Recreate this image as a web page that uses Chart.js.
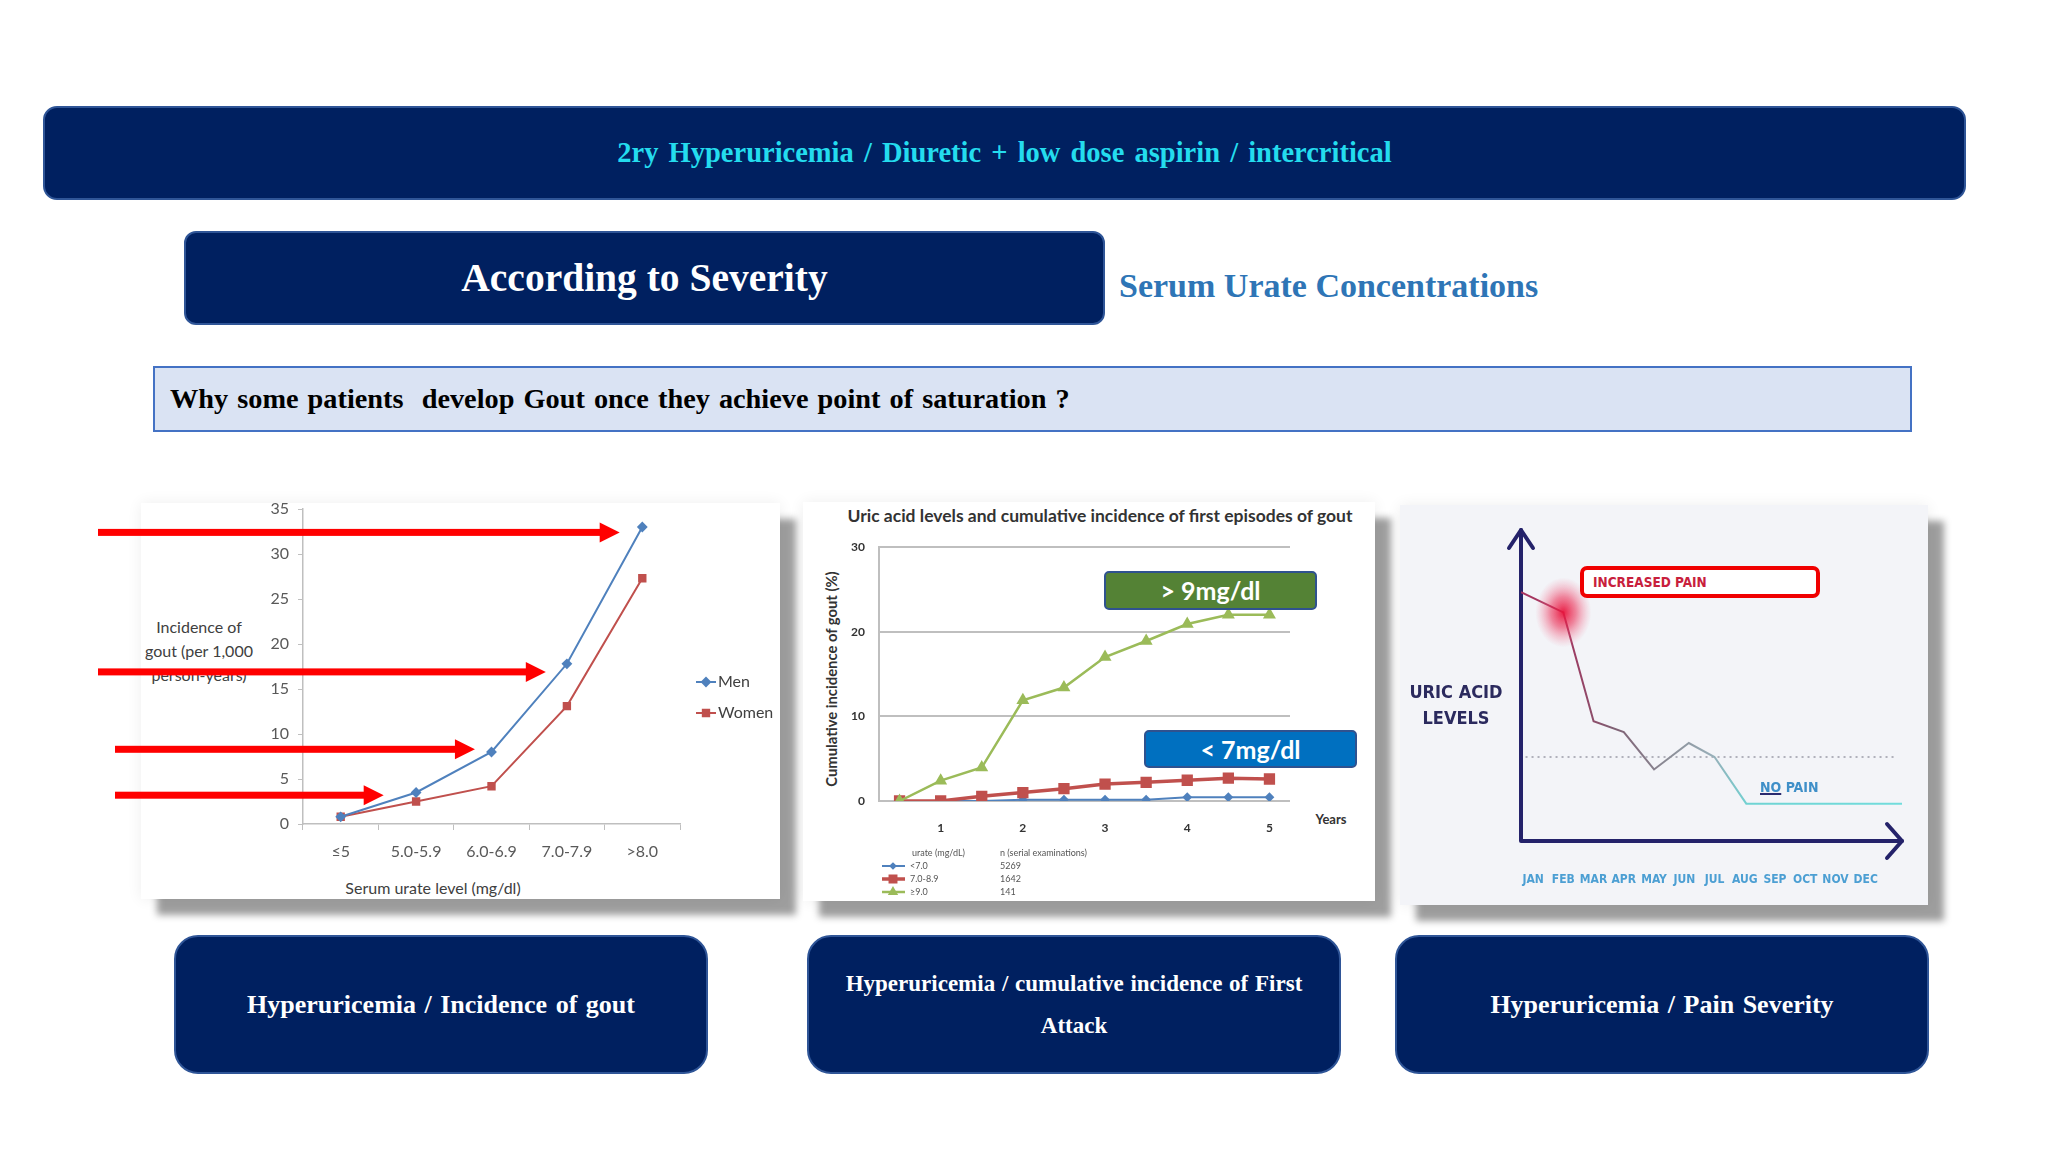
<!DOCTYPE html>
<html>
<head>
<meta charset="utf-8">
<script src="https://cdn.jsdelivr.net/npm/chart.js@4.4.1/dist/chart.umd.min.js"></script>
<style>
  body { margin: 0; width: 2048px; height: 1152px; background: #fff; position: relative; overflow: hidden; font-family: 'Liberation Serif', 'Times New Roman', serif; }
  .abs { position: absolute; }
  .navy { background: #002060; border: 2px solid #2F5597; box-sizing: border-box; color: #fff; font-weight: bold; display: flex; align-items: center; justify-content: center; text-align: center; }
  .panel { position: absolute; box-shadow: 16px 16px 7px rgba(0,0,0,0.38), 0 0 14px rgba(0,0,0,0.07); z-index: 1; }
  .txt { position: absolute; z-index: 2; white-space: nowrap; }
  canvas { position: absolute; z-index: 3; }
  .narrow { font-family: 'Liberation Sans Narrow', 'DejaVu Sans Condensed', sans-serif; font-weight: bold; }
</style>
</head>
<body>

<!-- slide header -->
<div class="abs navy" style="left:43px;top:106px;width:1923px;height:94px;border-radius:14px;color:#24DCEE;font-size:28.5px;word-spacing:3px;">2ry Hyperuricemia / Diuretic + low dose aspirin / intercritical</div>
<div class="abs navy" style="left:184px;top:231px;width:921px;height:94px;border-radius:12px;font-size:39.5px;">According to Severity</div>
<div class="abs" style="left:1119px;top:266px;height:40px;line-height:40px;color:#2E75B6;font-size:34px;font-weight:bold;">Serum Urate Concentrations</div>
<div class="abs" style="left:153px;top:366px;width:1759px;height:66px;box-sizing:border-box;background:#DAE3F3;border:2px solid #4472C4;padding-left:15px;line-height:62px;font-size:28.3px;word-spacing:2px;font-weight:bold;color:#000;white-space:pre;">Why some patients  develop Gout once they achieve point of saturation ?</div>

<!-- panels -->
<div class="panel" style="left:141px;top:503px;width:639px;height:396px;background:#fff;"></div>
<div class="panel" style="left:803px;top:502px;width:572px;height:399px;background:#fff;"></div>
<div class="panel" style="left:1400px;top:505px;width:528px;height:400px;background:#F3F4F8;"></div>

<!-- chart 1 texts -->
<div class="txt" style="left:120px;top:615px;width:158px;line-height:24px;text-align:center;font-family:Lato,sans-serif;font-size:16px;color:#404040;">Incidence of<br>gout (per 1,000<br>person-years)</div>
<div class="txt" style="left:313px;top:876px;width:240px;line-height:24px;text-align:center;font-family:Lato,sans-serif;font-size:16px;color:#404040;">Serum urate level (mg/dl)</div>

<!-- chart 2 texts -->
<div class="txt" style="left:800px;top:504px;width:600px;line-height:24px;text-align:center;font-family:Lato,sans-serif;font-size:17.5px;font-weight:bold;color:#333;">Uric acid levels and cumulative incidence of first episodes of gout</div>
<div class="txt" style="left:701px;top:670px;width:260px;line-height:18px;text-align:center;font-family:Lato,sans-serif;font-size:14.8px;font-weight:bold;color:#333;transform:rotate(-90deg);">Cumulative incidence of gout (%)</div>
<div class="txt" style="left:1306px;top:810px;width:50px;line-height:18px;text-align:center;font-family:Lato,sans-serif;font-size:13px;font-weight:bold;color:#333;">Years</div>

<!-- chart 3 texts -->
<div class="txt narrow" style="left:1406px;top:679px;width:100px;line-height:26px;text-align:center;font-size:18px;color:#2B2A5E;z-index:4;">URIC ACID<br>LEVELS</div>

<canvas id="incidence" width="710" height="420" style="left:90px;top:490px;"></canvas>
<canvas id="cumulative" width="572" height="399" style="left:803px;top:502px;"></canvas>
<canvas id="pain" width="528" height="400" style="left:1400px;top:505px;"></canvas>

<!-- chart 2 callouts -->
<div class="abs" style="z-index:4;left:1104px;top:571px;width:213px;height:39px;box-sizing:border-box;background:#548235;border:2px solid #2F528F;border-radius:5px;color:#fff;font-family:Lato,sans-serif;font-weight:bold;font-size:25px;line-height:35px;text-align:center;">&gt; 9mg/dl</div>
<div class="abs" style="z-index:4;left:1144px;top:730px;width:213px;height:38px;box-sizing:border-box;background:#0070C0;border:2px solid #2F528F;border-radius:5px;color:#fff;font-family:Lato,sans-serif;font-weight:bold;font-size:25px;line-height:34px;text-align:center;">&lt; 7mg/dl</div>

<!-- chart 3 callouts -->
<div class="abs narrow" style="z-index:4;left:1580px;top:566px;width:240px;height:32px;box-sizing:border-box;background:#fff;border:4px solid #F00000;border-radius:7px;padding-left:9px;line-height:24px;font-size:13.5px;color:#C8203C;">INCREASED PAIN</div>
<div class="abs narrow" style="z-index:4;left:1760px;top:777px;line-height:20px;font-size:14px;color:#3F8FC8;"><span style="text-decoration:underline;text-decoration-color:#2B2B6F;text-decoration-thickness:2px;">NO</span> PAIN</div>

<!-- captions -->
<div class="abs navy" style="left:174px;top:935px;width:534px;height:139px;border-radius:24px;font-size:26px;word-spacing:2px;">Hyperuricemia / Incidence of gout</div>
<div class="abs navy" style="left:807px;top:935px;width:534px;height:139px;border-radius:24px;font-size:23px;line-height:42px;word-spacing:1px;">Hyperuricemia / cumulative incidence of First<br>Attack</div>
<div class="abs navy" style="left:1395px;top:935px;width:534px;height:139px;border-radius:24px;font-size:26px;word-spacing:2px;">Hyperuricemia / Pain Severity</div>

<script>
// chart 1: incidence of gout by serum urate
const urateLevels = ['≤5', '5.0-5.9', '6.0-6.9', '7.0-7.9', '>8.0'];
const menIncidence = [0.8, 3.5, 8.0, 17.8, 33.0];
const womenIncidence = [0.8, 2.5, 4.2, 13.1, 27.3];
const incidenceTicks = [0, 5, 10, 15, 20, 25, 30, 35];

// red arrows pointing at the men curve (level, tip in category units, start px)
const arrowLevels = [32.4, 16.9, 8.3, 3.2];
const arrowTips = [3.70, 2.72, 1.78, 0.57];
const arrowStarts = [8, 8, 25, 25];

// chart 2: cumulative incidence of first gout episode
const years = [0.5, 1, 1.5, 2, 2.5, 3, 3.5, 4, 4.5, 5];
const yearTicks = [1, 2, 3, 4, 5];
const urateHigh = [0, 2.4, 3.95, 11.9, 13.4, 17.0, 18.9, 20.9, 22.0, 22.0];
const urateMid = [0, 0, 0.55, 1.0, 1.45, 2.0, 2.2, 2.45, 2.7, 2.6];
const urateLow = [0, 0, 0, 0.15, 0.15, 0.15, 0.15, 0.45, 0.45, 0.45];
const urateGroups = ['<7.0', '7.0-8.9', '≥9.0'];
const serialExams = ['5269', '1642', '141'];

// chart 3: uric acid level vs pain over the year
const months = ['JAN', 'FEB', 'MAR', 'APR', 'MAY', 'JUN', 'JUL', 'AUG', 'SEP', 'OCT', 'NOV', 'DEC'];
const painX = [-0.4, 1, 2, 3, 4, 5.15, 6, 7.05, 12.2];
const painLevel = [8.0, 7.35, 3.85, 3.5, 2.3, 3.15, 2.7, 1.2, 1.2];
const thresholdX = [-0.25, 12.0];
const thresholdLevel = [2.7, 2.7];

Chart.defaults.font.family = 'Lato, sans-serif';
Chart.defaults.animation = false;
Chart.defaults.plugins.legend.display = false;
Chart.defaults.plugins.tooltip.enabled = false;

const pts = (xs, ys) => xs.map((x, i) => ({ x: x, y: ys[i] }));

// --- chart 1 ---
const arrowPlugin = {
    id: 'arrows',
    afterDatasetsDraw(chart) {
        const { ctx, scales: { x, y } } = chart;
        ctx.save();
        ctx.fillStyle = '#FF0000';
        arrowLevels.forEach((lvl, i) => {
            const yy = y.getPixelForValue(lvl);
            const tip = x.getPixelForValue(arrowTips[i]);
            ctx.fillRect(arrowStarts[i], yy - 3.5, tip - 19 - arrowStarts[i], 7);
            ctx.beginPath();
            ctx.moveTo(tip, yy);
            ctx.lineTo(tip - 20, yy - 10);
            ctx.lineTo(tip - 20, yy + 10);
            ctx.closePath();
            ctx.fill();
        });
        ctx.restore();
    }
};

const sideLegend = {
    id: 'sideLegend',
    afterDraw(chart) {
        const ctx = chart.ctx;
        const x0 = chart.chartArea.right + 16;
        ctx.save();
        chart.data.datasets.forEach((ds, i) => {
            const yy = 192 + i * 31;
            ctx.strokeStyle = ds.borderColor;
            ctx.lineWidth = 2;
            ctx.beginPath();
            ctx.moveTo(x0, yy);
            ctx.lineTo(x0 + 20, yy);
            ctx.stroke();
            ctx.fillStyle = ds.backgroundColor;
            Chart.helpers.drawPoint(ctx, { pointStyle: ds.pointStyle, radius: ds.pointRadius, borderWidth: 1 }, x0 + 10, yy);
            ctx.fillStyle = '#404040';
            ctx.font = '16px Lato';
            ctx.textBaseline = 'middle';
            ctx.fillText(ds.label, x0 + 22, yy);
        });
        ctx.restore();
    }
};

new Chart(document.getElementById('incidence'), {
    type: 'line',
    data: {
        labels: urateLevels,
        datasets: [
            { label: 'Men', data: menIncidence, borderColor: '#4F81BD', backgroundColor: '#4F81BD', borderWidth: 2, pointStyle: 'rectRot', pointRadius: 4, tension: 0 },
            { label: 'Women', data: womenIncidence, borderColor: '#C0504D', backgroundColor: '#C0504D', borderWidth: 2, pointStyle: 'rect', pointRadius: 4.5, tension: 0 }
        ]
    },
    options: {
        responsive: false,
        layout: { padding: { left: 163, right: 120, top: 19, bottom: 0 } },
        scales: {
            x: {
                offset: true,
                grid: { offset: true, drawOnChartArea: false, color: '#BFBFBF', tickLength: 6 },
                border: { color: '#BFBFBF', width: 1.5 },
                ticks: { color: '#595959', font: { size: 16 }, padding: 12 },
                afterFit: s => { s.height = 86; }
            },
            y: {
                min: 0, max: 35,
                afterBuildTicks: s => { s.ticks = incidenceTicks.map(v => ({ value: v })); },
                grid: { drawOnChartArea: false, color: '#BFBFBF', tickLength: 5 },
                border: { color: '#BFBFBF', width: 1.5 },
                ticks: { color: '#595959', font: { size: 16 }, padding: 9 },
                afterFit: s => { s.width = 50; }
            }
        }
    },
    plugins: [arrowPlugin, sideLegend]
});

// --- chart 2 ---
const bottomLegend = {
    id: 'bottomLegend',
    afterDraw(chart) {
        const ctx = chart.ctx;
        const order = [2, 1, 0];
        ctx.save();
        ctx.font = '9px Lato';
        ctx.fillStyle = '#555';
        ctx.textBaseline = 'middle';
        ctx.fillText('urate (mg/dL)', 109, 351);
        ctx.fillText('n (serial examinations)', 197, 351);
        order.forEach((di, row) => {
            const ds = chart.data.datasets[di];
            const yy = 364 + row * 13;
            ctx.strokeStyle = ds.borderColor;
            ctx.lineWidth = ds.borderWidth;
            ctx.beginPath();
            ctx.moveTo(79, yy);
            ctx.lineTo(102, yy);
            ctx.stroke();
            ctx.fillStyle = ds.backgroundColor;
            Chart.helpers.drawPoint(ctx, { pointStyle: ds.pointStyle, radius: ds.pointRadius * 0.7, borderWidth: 1 }, 90, yy);
            ctx.fillStyle = '#555';
            ctx.fillText(urateGroups[row], 107, yy);
            ctx.fillText(serialExams[row], 197, yy);
        });
        ctx.restore();
    }
};

new Chart(document.getElementById('cumulative'), {
    type: 'line',
    data: {
        datasets: [
            { label: '≥9.0', data: pts(years, urateHigh), borderColor: '#9BBB59', backgroundColor: '#9BBB59', borderWidth: 2.5, pointStyle: 'triangle', pointRadius: 5 },
            { label: '7.0-8.9', data: pts(years, urateMid), borderColor: '#C0504D', backgroundColor: '#C0504D', borderWidth: 3.5, pointStyle: 'rect', pointRadius: 5.5 },
            { label: '<7.0', data: pts(years, urateLow), borderColor: '#4F81BD', backgroundColor: '#4F81BD', borderWidth: 2, pointStyle: 'rectRot', pointRadius: 3.5 }
        ]
    },
    options: {
        responsive: false,
        layout: { padding: { left: 36, right: 85, top: 45, bottom: 0 } },
        scales: {
            x: {
                type: 'linear', min: 0.25, max: 5.25,
                afterBuildTicks: s => { s.ticks = yearTicks.map(v => ({ value: v })); },
                grid: { display: false },
                border: { display: false },
                ticks: { color: '#333', font: { size: 12, weight: 'bold' }, padding: 12 },
                afterFit: s => { s.height = 100; }
            },
            y: {
                min: 0, max: 30,
                ticks: { stepSize: 10, color: '#333', font: { size: 12, weight: 'bold' }, padding: 14 },
                grid: { color: '#BFBFBF', lineWidth: 2, drawTicks: false },
                border: { color: '#BFBFBF', width: 2 },
                afterFit: s => { s.width = 40; }
            }
        }
    },
    plugins: [bottomLegend]
});

// --- chart 3 ---
const painDecor = {
    id: 'painDecor',
    beforeDatasetsDraw(chart) {
        const { ctx, scales: { x, y } } = chart;
        const ox = x.getPixelForValue(painX[0]);
        const oy = y.getPixelForValue(0);
        const top = y.getPixelForValue(10);
        const right = x.getPixelForValue(painX[painX.length - 1]);
        ctx.save();
        ctx.strokeStyle = '#24226A';
        ctx.lineWidth = 4;
        ctx.lineCap = 'round';
        ctx.lineJoin = 'round';
        ctx.beginPath();
        ctx.moveTo(ox, top);
        ctx.lineTo(ox, oy);
        ctx.lineTo(right, oy);
        ctx.stroke();
        ctx.beginPath();
        ctx.moveTo(ox - 12, top + 18);
        ctx.lineTo(ox, top);
        ctx.lineTo(ox + 12, top + 18);
        ctx.moveTo(right - 15, oy - 17);
        ctx.lineTo(right, oy);
        ctx.lineTo(right - 15, oy + 17);
        ctx.stroke();
        ctx.restore();
    },
    afterDatasetsDraw(chart) {
        const ctx = chart.ctx;
        const p = chart.getDatasetMeta(0).data[1];
        ctx.save();
        ctx.translate(p.x, p.y);
        ctx.scale(1, 1.25);
        const g = ctx.createRadialGradient(0, 0, 0, 0, 0, 28);
        g.addColorStop(0, 'rgba(232,20,60,0.95)');
        g.addColorStop(0.45, 'rgba(235,40,80,0.55)');
        g.addColorStop(1, 'rgba(245,120,150,0)');
        ctx.fillStyle = g;
        ctx.beginPath();
        ctx.arc(0, 0, 28, 0, Math.PI * 2);
        ctx.fill();
        ctx.restore();
    }
};

new Chart(document.getElementById('pain'), {
    type: 'line',
    data: {
        datasets: [
            {
                data: pts(painX, painLevel), borderWidth: 2, pointRadius: 0, tension: 0,
                borderColor: c => {
                    const a = c.chart.chartArea;
                    if (!a) return '#888';
                    const g = c.chart.ctx.createLinearGradient(a.left, 0, a.right, 0);
                    g.addColorStop(0, '#A8335E');
                    g.addColorStop(0.13, '#9E3A62');
                    g.addColorStop(0.24, '#7E5E72');
                    g.addColorStop(0.38, '#8A8A94');
                    g.addColorStop(0.5, '#98AEB8');
                    g.addColorStop(0.6, '#6FD3D3');
                    g.addColorStop(1, '#72DCDC');
                    return g;
                }
            },
            { data: pts(thresholdX, thresholdLevel), borderColor: '#9A9AA6', borderWidth: 1.5, borderDash: [2, 4], pointRadius: 0 }
        ]
    },
    options: {
        responsive: false,
        layout: { padding: { left: 121, right: 26, top: 25, bottom: 0 } },
        scales: {
            x: {
                type: 'linear', min: -0.4, max: 12.2,
                afterBuildTicks: s => { s.ticks = months.map((m, i) => ({ value: i })); },
                grid: { display: false },
                border: { display: false },
                ticks: { color: '#4C9FD3', font: { family: "'Liberation Sans Narrow', 'DejaVu Sans Condensed', sans-serif", size: 12, weight: 'bold' }, padding: 24, callback: (v, i) => months[i] },
                afterFit: s => { s.height = 64; }
            },
            y: { display: false, min: 0, max: 10 }
        }
    },
    plugins: [painDecor]
});
</script>
</body>
</html>
